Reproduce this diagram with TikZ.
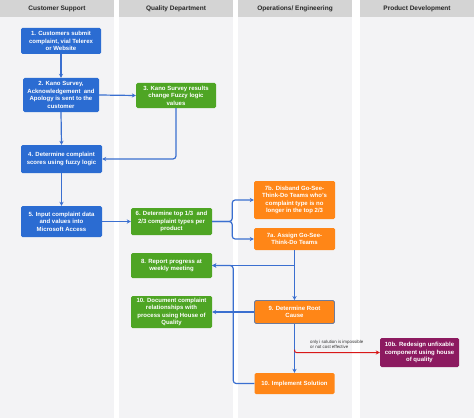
\documentclass[tikz,border=0pt]{standalone}
\usepackage{fontspec}
\setmainfont{Liberation Sans}
\usetikzlibrary{arrows.meta,calc}
\definecolor{lanebg}{HTML}{F3F3F5}
\definecolor{headbg}{HTML}{D4D4D4}
\definecolor{cblue}{HTML}{2B6CD2}
\definecolor{cgreen}{HTML}{4EA524}
\definecolor{corange}{HTML}{FF8617}
\definecolor{cpurple}{HTML}{8C1A60}
\definecolor{cline}{HTML}{3A6FD0}
\definecolor{credline}{HTML}{D81818}
\definecolor{cborder}{HTML}{6E7B9A}
\tikzset{
  lanebox/.style={fill=lanebg, draw=none},
  headbox/.style={fill=headbg, draw=none},
  headtext/.style={font=\fontsize{6.5}{7.5}\selectfont\bfseries, text=black!85},
  stepbox/.style={rectangle, rounded corners=1.5pt, text=white, align=center,
    font=\fontsize{6}{7.6}\selectfont\bfseries, inner sep=1pt},
  bluebox/.style={stepbox, fill=cblue},
  greenbox/.style={stepbox, fill=cgreen},
  orangebox/.style={stepbox, fill=corange},
  purplebox/.style={stepbox, fill=cpurple},
  conn/.style={draw=cline, line width=1.2pt, -{Stealth[length=4pt,width=4.2pt]}},
  redconn/.style={draw=credline, line width=1pt, -{Stealth[length=4pt,width=4pt]}},
  smalllabel/.style={font=\fontsize{4.4}{5.6}\selectfont, text=black!80, align=left, inner sep=0pt}
}
\begin{document}
\begin{tikzpicture}[x=1pt,y=-1pt]
\useasboundingbox (0,0) rectangle (474,420);
\fill[white] (0,0) rectangle (474,420);
% lanes
\path[lanebox] (0,0) rectangle (114,418);
\path[lanebox] (119,0) rectangle (233,418);
\path[lanebox] (238,0) rectangle (352,418);
\path[lanebox] (360,0) rectangle (474,418);
\path[headbox] (0,0) rectangle (114,17);
\path[headbox] (119,0) rectangle (233,17);
\path[headbox] (238,0) rectangle (352,17);
\path[headbox] (360,0) rectangle (474,17);
\node[headtext] (h1) at (57,8.8) {Customer Support};
\node[headtext] (h2) at (176,8.8) {Quality Department};
\node[headtext] (h3) at (295,8.8) {Operations/ Engineering};
\node[headtext] (h4) at (417,8.8) {Product Development};
% nodes
\node[bluebox, minimum width=80pt, minimum height=26pt] (n1) at (61,41) {1. Customers submit\\complaint, vial Telerex\\or Website};
\node[bluebox, minimum width=76pt, minimum height=34pt] (n2) at (61,95) {2. Kano Survey,\\Acknowledgement\ \ and\\Apology is sent to the\\customer};
\node[greenbox, minimum width=80pt, minimum height=25pt] (n3) at (176,95.5) {3. Kano Survey results\\change Fuzzy logic\\values};
\node[bluebox, minimum width=81pt, minimum height=28pt] (n4) at (61.5,159) {4. Determine complaint\\scores using fuzzy logic};
\node[bluebox, minimum width=81pt, minimum height=31pt] (n5) at (61.5,221.5) {5. Input complaint data\\and values into\\Microsoft Access};
\node[greenbox, minimum width=81pt, minimum height=27pt] (n6) at (171.5,221.5) {6. Determine top 1/3\ \ and\\2/3 complaint types per\\product};
\node[orangebox, minimum width=81pt, minimum height=38pt] (n7b) at (294.5,200) {7b. Disband Go-See-\\Think-Do Teams who's\\complaint type is no\\longer in the top 2/3};
\node[orangebox, minimum width=81pt, minimum height=22pt] (n7a) at (294.5,239) {7a. Assign Go-See-\\Think-Do Teams};
\node[greenbox, minimum width=81pt, minimum height=25pt] (n8) at (171.5,265.5) {8. Report progress at\\weekly meeting};
\node[greenbox, minimum width=81pt, minimum height=32pt] (n10d) at (171.5,312) {10. Document complaint\\relationships with\\process using House of\\Quality};
\node[orangebox, draw=cborder, line width=0.9pt, minimum width=80pt, minimum height=23pt] (n9) at (294.5,312) {9. Determine Root\\Cause};
\node[orangebox, minimum width=80pt, minimum height=21pt] (n10i) at (294.5,383.5) {10. Implement Solution};
\node[purplebox, minimum width=79pt, minimum height=29pt] (n10b) at (419.5,352.5) {10b. Redesign unfixable\\component using house\\of quality};
% connectors
\draw[conn] (n1.south) -- (n2.north);
\draw[conn] (n2.east) -- (n3.west);
\draw[conn] (n2.south) -- (n4.north);
\draw[conn, rounded corners=3pt] (n3.south) |- (n4.east);
\draw[conn] (n4.south) -- (n5.north);
\draw[conn] (n5.east) -- (n6.west);
\draw[conn, rounded corners=3pt] (n6.east) -- ($(n6.east)+(20,0)$) |- (n7b.west);
\draw[conn, rounded corners=3pt] (n6.east) -- ($(n6.east)+(20,0)$) |- (n7a.west);
\draw[conn] (n7a.south) -- (n9.north);
\draw[conn] (n7a.south |- n8.east) -- (n8.east);
\draw[conn, rounded corners=3pt] (n10i.west) -| ($(n8.east)+(21,0)$) -- (n8.east);
\draw[conn] (n9.west) -- (n10d.east);
\draw[conn] (n9.south) -- (n10i.north);
\draw[redconn, rounded corners=2pt] ($(n9.south |- n10b.west)+(0,-3)$) -- (n9.south |- n10b.west) -- (n10b.west);
\node[smalllabel, anchor=south west] (lbl) at (310,349) {only i solution is impossible\\or not cost effective};
\end{tikzpicture}
\end{document}
